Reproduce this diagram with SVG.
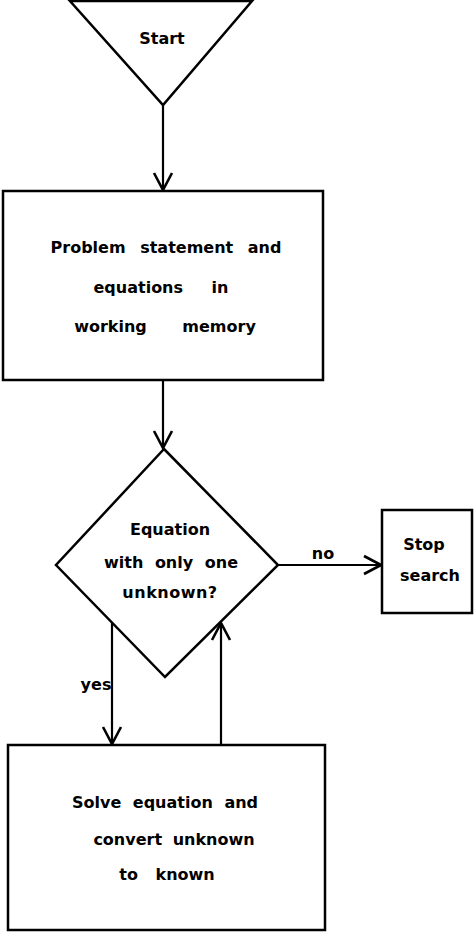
<svg xmlns="http://www.w3.org/2000/svg" width="474" height="934" viewBox="0 0 474 934">
<style>
.s{fill:#fff;stroke:#000;stroke-width:2.5}
.c{fill:none;stroke:#000;stroke-width:2.2}
.t{font-family:"DejaVu Sans","Liberation Sans",sans-serif;font-weight:bold;font-size:16px;fill:#000;text-anchor:middle}
</style>
<defs>
<marker id="a" viewBox="0 0 24 24" refX="22" refY="12" markerWidth="24" markerHeight="24" markerUnits="userSpaceOnUse" orient="auto">
<path d="M5,3 L22,12 L5,21" fill="none" stroke="#000" stroke-width="2.6"/>
</marker>
</defs>
<rect width="474" height="934" fill="#fff"/>
<g id="connectors">
<line class="c" x1="163" y1="105" x2="163" y2="190" marker-end="url(#a)"/>
<line class="c" x1="163" y1="380" x2="163" y2="448" marker-end="url(#a)"/>
<line class="c" x1="278" y1="565" x2="381" y2="565" marker-end="url(#a)"/>
<line class="c" x1="112" y1="622" x2="112" y2="744" marker-end="url(#a)"/>
<line class="c" x1="221" y1="745" x2="221" y2="623" marker-end="url(#a)"/>
<text class="t" x="323" y="559" font-size="13">no</text>
<text class="t" x="96" y="690" font-size="13">yes</text>
</g>
<g id="start">
<polygon class="s" points="70,1 252,1 163,105"/>
<text class="t" x="162" y="44" font-size="15">Start</text>
</g>
<g id="problem">
<rect class="s" x="3" y="191" width="320" height="189"/>
<text class="t" x="166" y="253" word-spacing="9">Problem statement and</text>
<text class="t" x="161" y="293" word-spacing="23">equations in</text>
<text class="t" x="165" y="332" word-spacing="30">working memory</text>
</g>
<g id="decision">
<polygon class="s" points="164,449 278,565 165,677 56,565"/>
<text class="t" x="170" y="535">Equation</text>
<text class="t" x="171" y="568" word-spacing="6">with only one</text>
<text class="t" x="170" y="598" letter-spacing="0.5">unknown?</text>
</g>
<g id="stop">
<rect class="s" x="382" y="510" width="90" height="103"/>
<text class="t" x="424" y="550" font-size="15">Stop</text>
<text class="t" x="430" y="581" font-size="15">search</text>
</g>
<g id="solve">
<rect class="s" x="8" y="745" width="317" height="185"/>
<text class="t" x="165" y="808" word-spacing="6">Solve equation and</text>
<text class="t" x="174" y="845" word-spacing="5">convert unknown</text>
<text class="t" x="167" y="880" word-spacing="12">to known</text>
</g>
</svg>
